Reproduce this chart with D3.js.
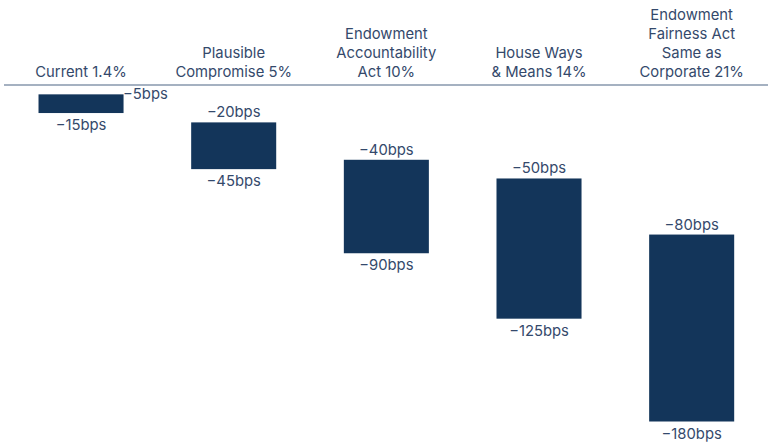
<!DOCTYPE html>
<html><head><meta charset="utf-8">
<script src="https://cdn.jsdelivr.net/npm/d3@7"></script>
<style>html,body{margin:0;padding:0;background:#fff;}svg{display:block;}</style>
</head><body>
<svg id="chart" width="768" height="446"></svg>
<script>
const categories = [
  ["Current 1.4%"],
  ["Plausible", "Compromise 5%"],
  ["Endowment", "Accountability", "Act 10%"],
  ["House Ways", "& Means 14%"],
  ["Endowment", "Fairness Act", "Same as", "Corporate 21%"]
];
const highValues = [-5, -20, -40, -50, -80];
const lowValues = [-15, -45, -90, -125, -180];
const keys = ["c1", "c2", "c3", "c4", "c5"];

const data = keys.map((k, i) => ({key: k, label: categories[i], hi: highValues[i], lo: lowValues[i]}));

const svg = d3.select("#chart");
const font = "Inter, sans-serif";
const fontSize = 14.8;
const textColor = "#34496b";
const barColor = "#13355a";

const x = d3.scaleBand().domain(keys).range([4.7, 768]).paddingInner(0.443).paddingOuter(0.2215);
const y = d3.scaleLinear().domain([0, -180]).range([85, 421.5]);

svg.append("line").attr("x1", 4).attr("x2", 768).attr("y1", y(0)).attr("y2", y(0))
  .attr("stroke", "#8797ad").attr("stroke-width", 1.3);

const lineH = 19;
data.forEach(d => {
  const n = d.label.length;
  const t = svg.append("text").attr("text-anchor", "middle")
    .attr("font-family", font).attr("font-size", fontSize).attr("fill", textColor);
  d.label.forEach((s, j) => {
    t.append("tspan").attr("x", x(d.key) + x.bandwidth() / 2)
      .attr("y", 76.5 - (n - 1 - j) * lineH).text(s);
  });
});

svg.selectAll("rect.bar").data(data).join("rect").attr("class", "bar")
  .attr("x", d => x(d.key)).attr("width", x.bandwidth())
  .attr("y", d => y(d.hi)).attr("height", d => y(d.lo) - y(d.hi))
  .attr("fill", barColor);

const fmt = v => "\u2212" + Math.abs(v) + "bps";
data.forEach((d, i) => {
  const t = svg.append("text").attr("font-family", font).attr("font-size", fontSize).attr("fill", textColor)
    .text(fmt(d.hi));
  if (i === 0) {
    t.attr("x", x(d.key) + x.bandwidth() - 0.5).attr("y", y(d.hi) + 5).attr("text-anchor", "start");
  } else {
    t.attr("x", x(d.key) + x.bandwidth() / 2).attr("y", y(d.hi) - 5).attr("text-anchor", "middle");
  }
  svg.append("text").attr("font-family", font).attr("font-size", fontSize).attr("fill", textColor)
    .attr("text-anchor", "middle")
    .attr("x", x(d.key) + x.bandwidth() / 2).attr("y", y(d.lo) + 17)
    .text(fmt(d.lo));
});
</script>
</body></html>
